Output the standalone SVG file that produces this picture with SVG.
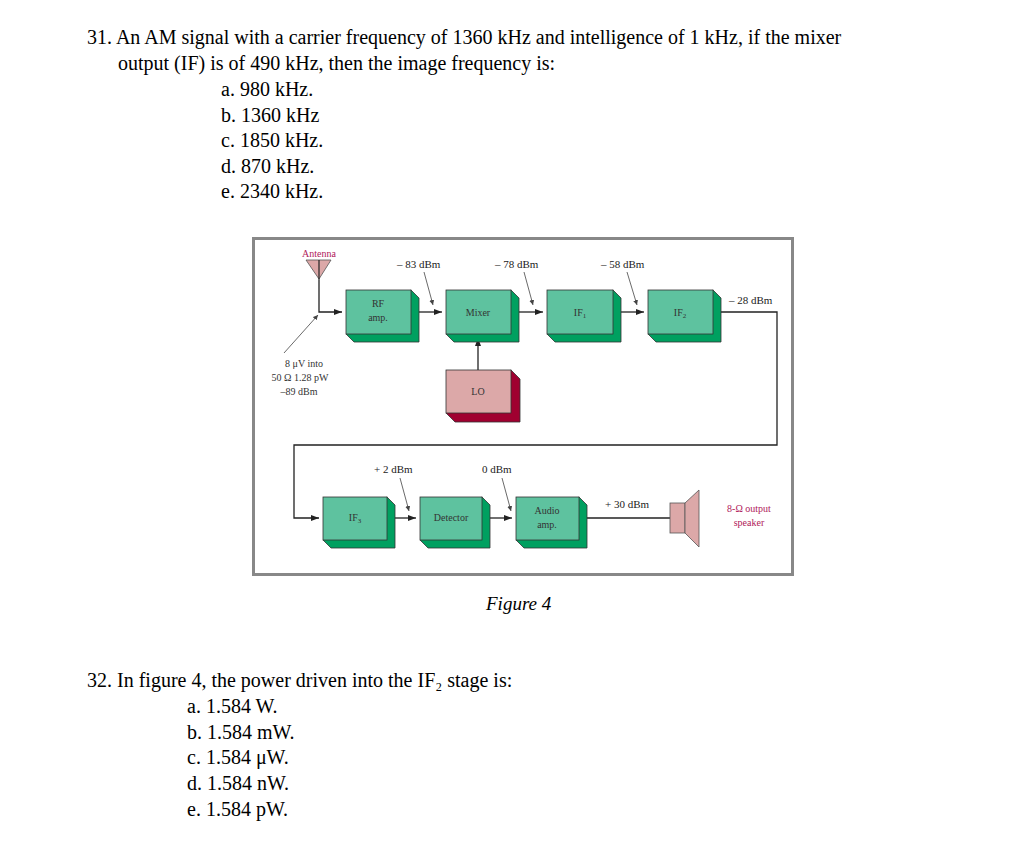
<svg xmlns="http://www.w3.org/2000/svg" width="1032" height="841" viewBox="0 0 1032 841">
<style>
.q{font-family:"Liberation Serif",serif;font-size:20px;fill:#000}
.s{font-family:"Liberation Serif",serif;font-size:11px;fill:#222}
.b{font-family:"Liberation Serif",serif;font-size:10px;fill:#333;text-anchor:middle}
.p{font-family:"Liberation Serif",serif;font-size:10px;fill:#b0205a;text-anchor:middle}
.f{fill:#5ec29f;stroke:#333;stroke-width:0.8}
.sh{fill:#00a060;stroke:#333;stroke-width:0.8}
.ln{stroke:#222;stroke-width:1.3;fill:none}
.th{stroke:#444;stroke-width:0.8;fill:none}
</style>
<defs>
<marker id="a" markerWidth="8" markerHeight="6" refX="8" refY="3" orient="auto" markerUnits="userSpaceOnUse"><path d="M0,0L8,3L0,6z" fill="#222"/></marker>
<marker id="t" markerWidth="5" markerHeight="5" refX="5" refY="2.5" orient="auto" markerUnits="userSpaceOnUse"><path d="M0,0L5,2.5L0,5z" fill="#444"/></marker>
</defs>
<rect width="1032" height="841" fill="#fff"/>
<text class="q" x="87" y="44">31. An AM signal with a carrier frequency of 1360 kHz and intelligence of 1 kHz, if the mixer</text>
<text class="q" x="118" y="70">output (IF) is of 490 kHz, then the image frequency is:</text>
<text class="q" x="221" y="96">a.  980 kHz.</text>
<text class="q" x="221" y="122">b.  1360 kHz</text>
<text class="q" x="221" y="147">c.  1850 kHz.</text>
<text class="q" x="221" y="173">d.  870 kHz.</text>
<text class="q" x="221" y="198">e.  2340 kHz.</text>
<rect x="253.5" y="238.5" width="539" height="336" fill="#fff" stroke="#888" stroke-width="3"/>
<g id="connectors">
<path class="ln" d="M319,280V312H342" marker-end="url(#a)"/>
<path class="ln" d="M419,312H442" marker-end="url(#a)"/>
<path class="ln" d="M519,312H543" marker-end="url(#a)"/>
<path class="ln" d="M621,312H644" marker-end="url(#a)"/>
<path class="ln" d="M721,312H777V445H294V518H319" marker-end="url(#a)"/>
<path class="ln" d="M478,370V338" marker-end="url(#a)"/>
<path class="ln" d="M395,518H416" marker-end="url(#a)"/>
<path class="ln" d="M490,518H512" marker-end="url(#a)"/>
<path class="ln" d="M587,518H670"/>
<path class="th" d="M284,353L318,315" marker-end="url(#t)"/>
<path class="th" d="M424,272L433,305" marker-end="url(#t)"/>
<path class="th" d="M524,272L533,305" marker-end="url(#t)"/>
<path class="th" d="M627,272L637,305" marker-end="url(#t)"/>
<path class="th" d="M400,478L409,511" marker-end="url(#t)"/>
<path class="th" d="M502,478L511,511" marker-end="url(#t)"/>
</g>
<g id="antenna"><path d="M306,260H331L319,279Z" fill="#dca8a8" stroke="#555" stroke-width="0.8"/><line x1="319" y1="260" x2="319" y2="280" stroke="#222" stroke-width="1.2"/><text class="p" x="319" y="257">Antenna</text></g>
<g id="rf"><path class="sh" d="M411,290L419,298V342H354L346,334Z"/><rect class="f" x="346" y="290" width="65" height="44"/><text class="b" x="378" y="307">RF</text><text class="b" x="378" y="321">amp.</text></g>
<g id="mixer"><path class="sh" d="M511,290L519,298V342H454L446,334Z"/><rect class="f" x="446" y="290" width="65" height="44"/><text class="b" x="478" y="316">Mixer</text></g>
<g id="if1"><path class="sh" d="M613,290L621,298V342H555L547,334Z"/><rect class="f" x="547" y="290" width="66" height="44"/><text class="b" x="580" y="316">IF<tspan font-size="7" dy="2">1</tspan></text></g>
<g id="if2"><path class="sh" d="M713,290L721,298V342H656L648,334Z"/><rect class="f" x="648" y="290" width="65" height="44"/><text class="b" x="680" y="316">IF<tspan font-size="7" dy="2">2</tspan></text></g>
<g id="lo"><path d="M511,370L520,379V422H455L446,413Z" fill="#a00030" stroke="#333" stroke-width="0.8"/><rect x="446" y="370" width="65" height="43" fill="#dca8a8" stroke="#333" stroke-width="0.8"/><text class="b" x="478" y="395">LO</text></g>
<g id="if3"><path class="sh" d="M387,497L395,505V548H331L323,540Z"/><rect class="f" x="323" y="497" width="64" height="43"/><text class="b" x="355" y="521">IF<tspan font-size="7" dy="2">3</tspan></text></g>
<g id="detector"><path class="sh" d="M482,497L490,505V548H428L420,540Z"/><rect class="f" x="420" y="497" width="62" height="43"/><text class="b" x="451" y="521">Detector</text></g>
<g id="audio"><path class="sh" d="M579,497L587,505V548H524L516,540Z"/><rect class="f" x="516" y="497" width="63" height="43"/><text class="b" x="547" y="514">Audio</text><text class="b" x="547" y="528">amp.</text></g>
<g id="speaker"><rect x="670" y="503" width="15" height="30" fill="#dca8a8" stroke="#555" stroke-width="0.8"/><path d="M685,503L699,490V547L685,533Z" fill="#dca8a8" stroke="#555" stroke-width="0.8"/><text class="p" x="749" y="512">8-Ω output</text><text class="p" x="749" y="526">speaker</text></g>
<g id="labels">
<text class="s" x="397" y="268">– 83 dBm</text>
<text class="s" x="495" y="268">– 78 dBm</text>
<text class="s" x="601" y="268">– 58 dBm</text>
<text class="s" x="729" y="304">– 28 dBm</text>
<text class="s" x="374" y="473">+ 2 dBm</text>
<text class="s" x="482" y="473">0 dBm</text>
<text class="s" x="605" y="508">+ 30 dBm</text>
<text class="b" x="304" y="367">8 μV into</text>
<text class="b" x="300" y="381">50 Ω 1.28 pW</text>
<text class="b" x="299" y="395">–89 dBm</text>
</g>
<text x="486" y="610" font-family="Liberation Serif,serif" font-size="19" font-style="italic">Figure 4</text>
<text class="q" x="87" y="687">32. In figure 4, the power driven into the IF₂ stage is:</text>
<text class="q" x="187" y="713">a.  1.584 W.</text>
<text class="q" x="187" y="739">b.  1.584 mW.</text>
<text class="q" x="187" y="764">c.  1.584 μW.</text>
<text class="q" x="187" y="790">d.  1.584 nW.</text>
<text class="q" x="187" y="816">e.  1.584 pW.</text>
</svg>
